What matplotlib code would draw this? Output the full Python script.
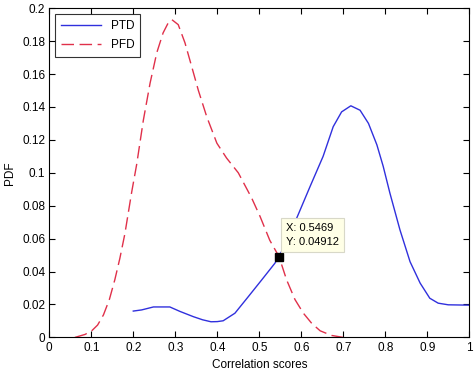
import matplotlib
matplotlib.use('Agg')
import matplotlib.pyplot as plt

plt.rcParams['font.family'] = ['Liberation Sans', 'DejaVu Sans']

# PTD curve (blue, solid)
ptd_x = [0.20, 0.22, 0.248, 0.287, 0.311, 0.343, 0.365, 0.385, 0.400, 0.414,
         0.442, 0.474, 0.506, 0.537, 0.5469, 0.565, 0.593, 0.621, 0.652, 0.676,
         0.696, 0.718, 0.740, 0.760, 0.780, 0.795, 0.811, 0.835, 0.859, 0.883,
         0.906, 0.926, 0.950, 0.975, 1.0]
ptd_y = [0.016, 0.0167, 0.0185, 0.0185, 0.0158, 0.0126, 0.0107, 0.0095, 0.0096, 0.0101,
         0.0147, 0.0248, 0.035, 0.045, 0.04912, 0.058, 0.0748, 0.0917, 0.110, 0.128,
         0.137, 0.1407, 0.138, 0.130, 0.117, 0.104, 0.0877, 0.0653, 0.046, 0.033,
         0.0238, 0.0208, 0.0198, 0.0197, 0.0196]

# PFD curve (red, dashed)
pfd_x = [0.061, 0.085, 0.101, 0.115, 0.129, 0.143, 0.156, 0.168, 0.180, 0.196,
         0.208, 0.224, 0.240, 0.256, 0.271, 0.283, 0.292, 0.307, 0.323, 0.339,
         0.355, 0.375, 0.399, 0.422, 0.450, 0.482, 0.502, 0.525, 0.5469, 0.565,
         0.585, 0.605, 0.625, 0.645, 0.672, 0.70]
pfd_y = [0.0, 0.0018, 0.004, 0.0075, 0.0137, 0.023, 0.035, 0.048, 0.063, 0.088,
         0.105, 0.132, 0.1545, 0.173, 0.185, 0.191, 0.193, 0.190, 0.179, 0.1646,
         0.150, 0.134, 0.118, 0.109, 0.100, 0.0846, 0.0734, 0.059, 0.04912, 0.035,
         0.023, 0.0147, 0.0085, 0.0040, 0.0012, 0.0]

tip_x = 0.5469
tip_y = 0.04912

fig = plt.figure(figsize=(4.74, 3.72), dpi=100)
ax = fig.add_axes([0.104, 0.093, 0.886, 0.885])

ax.plot(ptd_x, ptd_y, color='#3030dd', lw=1.0, label='PTD')
ax.plot(pfd_x, pfd_y, color='#e0304a', lw=1.0, dashes=(9, 4), label='PFD')

# data tip
ax.plot([tip_x], [tip_y], marker='s', color='black', ms=5.5, ls='none')
ax.text(tip_x + 0.016, tip_y + 0.0055, 'X: %.4f\nY: %.5f' % (tip_x, tip_y),
        fontsize=8, va='bottom', ha='left', linespacing=1.5,
        bbox=dict(boxstyle='square,pad=0.45', fc='#ffffe6', ec='#d8d8c8', lw=0.8))

ax.set_xlim(0, 1)
ax.set_ylim(0, 0.2)
ax.set_xticks([0, 0.1, 0.2, 0.3, 0.4, 0.5, 0.6, 0.7, 0.8, 0.9, 1])
ax.set_xticklabels(['0', '0.1', '0.2', '0.3', '0.4', '0.5', '0.6', '0.7', '0.8', '0.9', '1'])
ax.set_yticks([0, 0.02, 0.04, 0.06, 0.08, 0.1, 0.12, 0.14, 0.16, 0.18, 0.2])
ax.set_yticklabels(['0', '0.02', '0.04', '0.06', '0.08', '0.1', '0.12', '0.14', '0.16', '0.18', '0.2'])
ax.tick_params(direction='in', top=True, right=True, length=4, width=0.8,
               labelsize=8.5, pad=3)
for s in ax.spines.values():
    s.set_linewidth(0.8)

ax.set_xlabel('Correlation scores', fontsize=8.5, labelpad=4)
ax.set_ylabel('PDF', fontsize=8.5, labelpad=4)

leg = ax.legend(loc='upper left', fontsize=8.5, frameon=True, fancybox=False,
                edgecolor='black', handlelength=3.4, borderaxespad=0.5,
                borderpad=0.5, labelspacing=0.6)
leg.get_frame().set_linewidth(0.8)

plt.savefig('out.png', dpi=100)
